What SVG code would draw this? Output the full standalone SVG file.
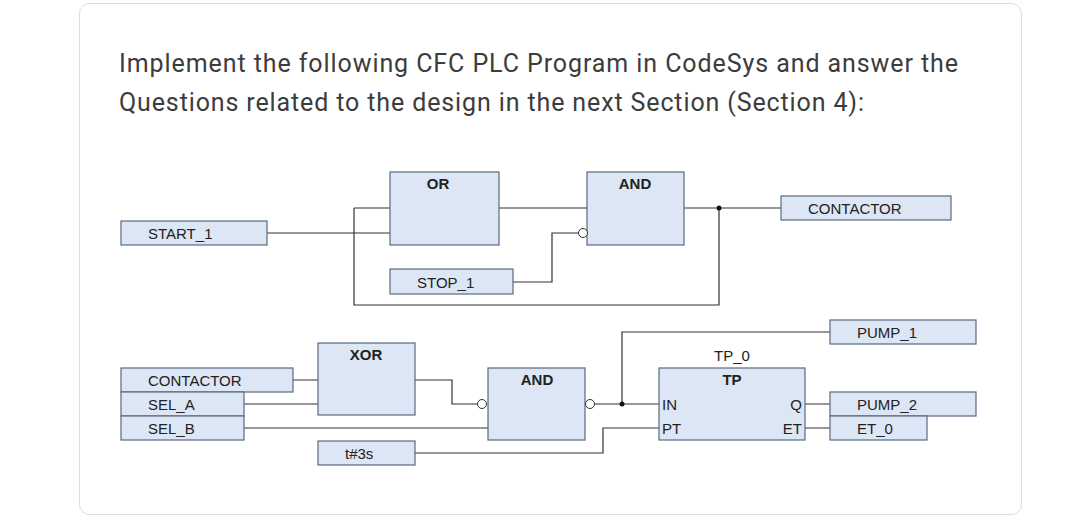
<svg xmlns="http://www.w3.org/2000/svg" width="1080" height="520" viewBox="0 0 1080 520">
<style>
.t{font-family:"Roboto","Liberation Sans",sans-serif;font-size:25px;fill:#3c3c3c}
.b{fill:#dde6f4;stroke:#5a6a80;stroke-width:1.2}
.l{font-family:"Liberation Sans",Arial,sans-serif;font-size:15px;fill:#222}
.h{font-family:"Liberation Sans",Arial,sans-serif;font-size:15px;font-weight:bold;fill:#222;text-anchor:middle}
.w{fill:none;stroke:#333;stroke-width:1.2}
.n{fill:#fff;stroke:#333;stroke-width:1}
</style>
<rect width="1080" height="520" fill="#fff"/>
<rect x="79.5" y="3.5" width="942" height="511" rx="10" fill="#fff" stroke="#ddd"/>
<text class="t" x="119" y="72" textLength="839" lengthAdjust="spacing">Implement the following CFC PLC Program in CodeSys and answer the</text>
<text class="t" x="119" y="111" textLength="745" lengthAdjust="spacing">Questions related to the design in the next Section (Section 4):</text>
<g id="connectors">
<path class="w" d="M267 233H390M354 208H390M354 208V305H719V208M499 208H587M684 208H781M513 282H552V233H579"/>
<path class="w" d="M293 380H318M244 404H318M415 380H452V404H477M244 428H488M595 404H659M622 404V332H830M415 453H603V428H659M805 404H830M805 428H830"/>
<circle cx="719" cy="208" r="2.5" fill="#111"/>
<circle cx="622" cy="404" r="2.5" fill="#111"/>
</g>
<g id="start1"><rect class="b" x="121" y="221" width="146" height="24"/><text class="l" x="148" y="239">START_1</text></g>
<g id="or"><rect class="b" x="390" y="172" width="109" height="73"/><text class="h" x="438" y="189">OR</text></g>
<g id="and1"><rect class="b" x="587" y="172" width="97" height="73"/><text class="h" x="635" y="189">AND</text><circle class="n" cx="583" cy="233" r="4.5"/></g>
<g id="contactor1"><rect class="b" x="781" y="196" width="170" height="24"/><text class="l" x="808" y="214">CONTACTOR</text></g>
<g id="stop1"><rect class="b" x="390" y="269" width="123" height="25"/><text class="l" x="417" y="288">STOP_1</text></g>
<g id="pump1"><rect class="b" x="830" y="320" width="146" height="24"/><text class="l" x="857" y="338">PUMP_1</text></g>
<g id="xor"><rect class="b" x="318" y="343" width="97" height="72"/><text class="h" x="366" y="360">XOR</text></g>
<g id="contactor2"><rect class="b" x="121" y="368" width="172" height="24"/><text class="l" x="148" y="386">CONTACTOR</text></g>
<g id="sela"><rect class="b" x="121" y="392" width="123" height="24"/><text class="l" x="148" y="410">SEL_A</text></g>
<g id="selb"><rect class="b" x="121" y="416" width="123" height="24"/><text class="l" x="148" y="434">SEL_B</text></g>
<g id="and2"><rect class="b" x="488" y="368" width="97" height="72"/><text class="h" x="537" y="385">AND</text><circle class="n" cx="482" cy="404" r="4.5"/><circle class="n" cx="590" cy="404" r="4.5"/></g>
<g id="tp0"><text class="l" x="732" y="361" text-anchor="middle">TP_0</text><rect class="b" x="659" y="368" width="146" height="72"/><text class="h" x="732" y="385">TP</text>
<text class="l" x="662" y="410">IN</text><text class="l" x="662" y="434">PT</text><text class="l" x="802" y="410" text-anchor="end">Q</text><text class="l" x="802" y="434" text-anchor="end">ET</text></g>
<g id="pump2"><rect class="b" x="830" y="392" width="146" height="24"/><text class="l" x="857" y="410">PUMP_2</text></g>
<g id="et0"><rect class="b" x="830" y="416" width="97" height="24"/><text class="l" x="857" y="434">ET_0</text></g>
<g id="t3s"><rect class="b" x="318" y="441" width="97" height="24"/><text class="l" x="345" y="459">t#3s</text></g>
</svg>
